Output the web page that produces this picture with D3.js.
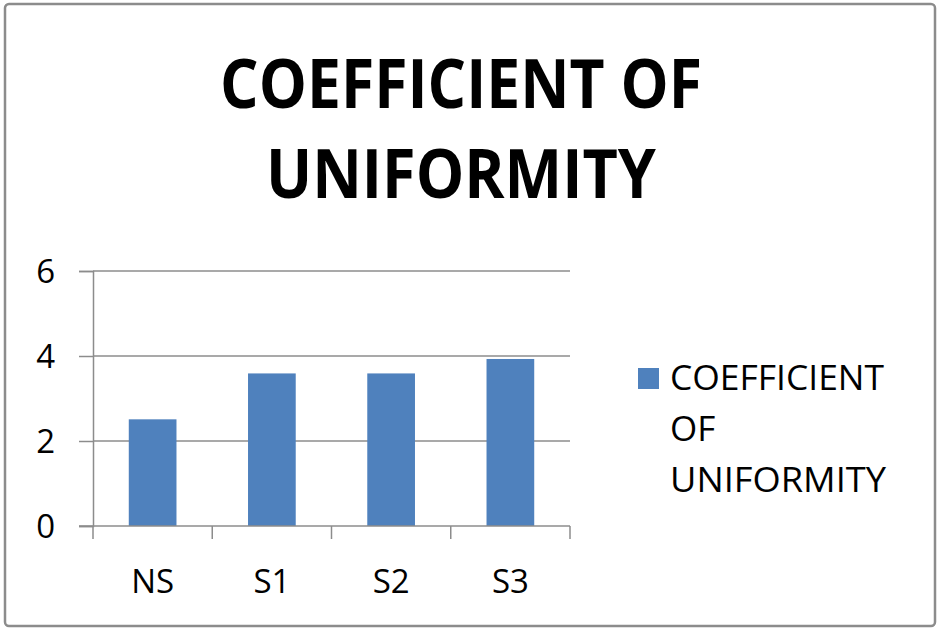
<!DOCTYPE html>
<html>
<head>
<meta charset="utf-8">
<script src="https://cdn.jsdelivr.net/npm/d3@7"></script>
<style>
  body { margin: 0; background: #fff; }
  text { font-family: "Open Sans", "Noto Sans", sans-serif; fill: #000; }
</style>
</head>
<body>
<div id="chart"></div>
<script>
// chart data
const categories = ["NS", "S1", "S2", "S3"];
const values = [2.51, 3.59, 3.59, 3.93];
const yTicks = [0, 2, 4, 6];
const seriesName = "COEFFICIENT OF UNIFORMITY";
const titleLines = ["COEFFICIENT OF", "UNIFORMITY"];
const legendLines = ["COEFFICIENT", "OF", "UNIFORMITY"];

const W = 941, H = 630;
const plot = { left: 93, right: 570, top: 271, bottom: 526 };

const svg = d3.select("#chart").append("svg")
    .attr("width", W)
    .attr("height", H);

svg.append("rect")
    .attr("x", 5).attr("y", 4)
    .attr("width", 930).attr("height", 622)
    .attr("rx", 4)
    .attr("fill", "#fff")
    .attr("stroke", "#8c8c8c")
    .attr("stroke-width", 2.5);

// title
const titleWidths = [482, 390];
svg.append("g").selectAll("text")
    .data(titleLines)
    .enter().append("text")
    .attr("x", 461)
    .attr("y", (d, i) => 108 + i * 90)
    .attr("text-anchor", "middle")
    .attr("font-size", 68)
    .attr("font-weight", "bold")
    .attr("textLength", (d, i) => titleWidths[i])
    .attr("lengthAdjust", "spacingAndGlyphs")
    .text(d => d);

const x = d3.scaleBand()
    .domain(categories)
    .range([plot.left, plot.right])
    .paddingInner(0.6)
    .paddingOuter(0.3);

const y = d3.scaleLinear()
    .domain([0, 6])
    .range([plot.bottom, plot.top]);

// gridlines
svg.append("g")
    .selectAll("line")
    .data(yTicks.filter(d => d > 0))
    .enter().append("line")
    .attr("x1", plot.left).attr("x2", plot.right)
    .attr("y1", d => y(d)).attr("y2", d => y(d))
    .attr("stroke", "#8c8c8c")
    .attr("stroke-width", 1.5);

// bars
svg.append("g")
    .selectAll("rect")
    .data(values)
    .enter().append("rect")
    .attr("x", (d, i) => x(categories[i]))
    .attr("y", d => y(d))
    .attr("width", x.bandwidth())
    .attr("height", d => plot.bottom - y(d))
    .attr("fill", "#4f81bd");

// y axis
const yAxis = svg.append("g")
    .attr("transform", `translate(${plot.left},0)`)
    .call(d3.axisLeft(y).tickValues(yTicks).tickSize(14).tickPadding(24).tickFormat(d3.format("d")));
yAxis.select(".domain").attr("stroke", "#8c8c8c").attr("stroke-width", 1.5);
yAxis.selectAll(".tick line").attr("stroke", "#8c8c8c").attr("stroke-width", 1.5);
yAxis.selectAll(".tick text")
    .attr("font-size", 33)
    .attr("font-family", "Open Sans, sans-serif")
    .attr("fill", "#000")
    .attr("dy", "0.35em");

// x axis: ticks at category boundaries
const step = x.step();
const xBounds = d3.range(categories.length + 1).map(i => plot.left + i * step);
const xAxis = svg.append("g").attr("transform", `translate(0,${plot.bottom})`);
xAxis.append("line")
    .attr("x1", plot.left - 14).attr("x2", plot.right)
    .attr("stroke", "#8c8c8c").attr("stroke-width", 1.5);
xAxis.selectAll("line.tk")
    .data(xBounds)
    .enter().append("line")
    .attr("class", "tk")
    .attr("x1", d => d).attr("x2", d => d)
    .attr("y1", 0).attr("y2", 13)
    .attr("stroke", "#8c8c8c").attr("stroke-width", 1.5);
xAxis.selectAll("text")
    .data(categories)
    .enter().append("text")
    .attr("x", d => x(d) + x.bandwidth() / 2)
    .attr("y", 67)
    .attr("text-anchor", "middle")
    .attr("font-size", 33)
    .text(d => d);

// legend
const legend = svg.append("g").attr("aria-label", seriesName);
legend.append("rect")
    .attr("x", 638).attr("y", 368)
    .attr("width", 21).attr("height", 21)
    .attr("fill", "#4f81bd");
legend.selectAll("text")
    .data(legendLines)
    .enter().append("text")
    .attr("x", 670)
    .attr("y", (d, i) => 390 + i * 51)
    .attr("font-size", 35)
    .attr("textLength", (d, i) => [214, null, 216][i])
    .attr("lengthAdjust", "spacingAndGlyphs")
    .text(d => d);
</script>
</body>
</html>
